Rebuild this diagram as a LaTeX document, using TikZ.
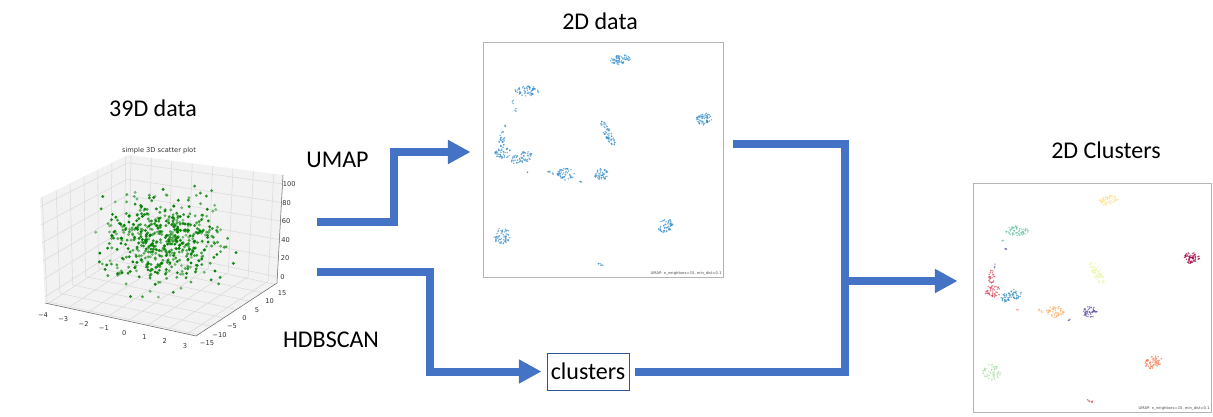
\documentclass[tikz,border=0pt]{standalone}
\usepackage{fontspec}
\setmainfont{Carlito}
\newfontfamily\plotfont{DejaVu Sans}
\usetikzlibrary{arrows.meta, positioning, calc}
\definecolor{cblue}{HTML}{4472C4}
\definecolor{cnavy}{HTML}{2F5597}
\definecolor{cdot}{HTML}{008000}
\definecolor{cumap}{HTML}{3A8FCB}
\definecolor{cpane}{HTML}{F2F2F2}
\definecolor{cgrid}{HTML}{DADADA}
\definecolor{cframe}{HTML}{B4B4B4}
\tikzset{
  every picture/.style={line width=0.6pt},
  title/.style={font=\fontsize{18}{21}\selectfont, anchor=base, inner sep=0pt},
  flow/.style={draw=cblue, line width=6pt},
  flowarrow/.style={flow, -{Triangle[length=17pt, width=17pt]}},
  plotframe/.style={draw=cframe, line width=0.6pt, inner sep=0pt},
  tick/.style={font=\plotfont\fontsize{5}{6}\selectfont, text=black!80, inner sep=0pt},
  note/.style={font=\plotfont\fontsize{2.8}{3}\selectfont, text=black!70, inner sep=0pt},
  gridline/.style={draw=cgrid, line width=0.4pt},
}
% points scattered in a rotated ellipse: x y rx ry angle count colour
\newcommand{\umapblob}[7]{%
  \foreach \k in {1,...,#6}{
    \pgfmathsetmacro\ba{360*rnd}
    \pgfmathsetmacro\br{sqrt(rnd)}
    \pgfmathsetmacro\bx{#1+\br*(#3*cos(\ba)*cos(#5)-#4*sin(\ba)*sin(#5))}
    \pgfmathsetmacro\by{#2+\br*(#3*cos(\ba)*sin(#5)+#4*sin(\ba)*cos(#5))}
    \fill[#7, opacity=.7] (\bx,\by) circle (0.85);
  }}
\newcommand{\umaplayout}{%
  \umapblob{137}{18}{10}{5}{-8}{65}{k1}
  \umapblob{44}{49}{12}{5}{0}{65}{k2}
  \umapblob{30}{60}{1}{2}{0}{3}{k2}
  \umapblob{33}{68}{1}{1.5}{0}{3}{k12}
  \umapblob{221}{77}{8}{6}{0}{65}{k3}
  \umapblob{125}{92}{14}{4}{62}{60}{k4}
  \umapblob{22}{85}{1}{2}{0}{3}{k12}
  \umapblob{19}{97}{3}{8}{0}{25}{k5}
  \umapblob{20}{111}{8}{6}{0}{45}{k5}
  \umapblob{39}{116}{11}{6}{-20}{60}{k6}
  \umapblob{45}{130}{1}{1}{0}{2}{k13}
  \umapblob{83}{132}{9}{6}{0}{55}{k7}
  \umapblob{68}{131}{4}{1.5}{20}{6}{k7}
  \umapblob{97}{140}{1.5}{1}{0}{3}{k12}
  \umapblob{118}{132}{7}{6}{0}{50}{k8}
  \umapblob{182}{184}{9}{6}{-25}{55}{k9}
  \umapblob{19}{194}{9}{8}{0}{60}{k10}
  \umapblob{118}{223}{3}{1}{30}{6}{k11}
}
\begin{document}
\begin{tikzpicture}[x=0.75pt, y=-0.75pt]
  \useasboundingbox (0,0) rectangle (1213,417);

  % 3D scatter plot
  \coordinate (Lt) at (40,198); \coordinate (Bt) at (128,155); \coordinate (Rt) at (283,175);
  \coordinate (Lb) at (45,303); \coordinate (Bb) at (126,250); \coordinate (Rb) at (277,283);
  \coordinate (F) at (196,336);
  \fill[cpane] (Lt) -- (Bt) -- (Bb) -- (Lb) -- cycle;
  \fill[cpane] (Bt) -- (Rt) -- (Rb) -- (Bb) -- cycle;
  \fill[cpane] (Lb) -- (Bb) -- (Rb) -- (F) -- cycle;
  \foreach \v in {-15,-10,...,15}{
    \pgfmathsetmacro\f{(\v+15.8)/31.6}
    \draw[gridline] ($(Lb)!\f!(Bb)$) -- ($(Lt)!\f!(Bt)$);
    \draw[gridline] ($(Lb)!\f!(Bb)$) -- ($(F)!\f!(Rb)$);
  }
  \foreach \v in {-4,...,3}{
    \pgfmathsetmacro\f{(\v+4.15)/7.6}
    \draw[gridline] ($(Bb)!\f!(Rb)$) -- ($(Bt)!\f!(Rt)$);
    \draw[gridline] ($(Lb)!\f!(F)$) -- ($(Bb)!\f!(Rb)$);
  }
  \foreach \v in {0,20,...,100}{
    \pgfmathsetmacro\f{(\v+6.5)/116}
    \draw[gridline] ($(Lb)!\f!(Lt)$) -- ($(Bb)!\f!(Bt)$) -- ($(Rb)!\f!(Rt)$);
  }
  \draw[black!60, line width=0.4pt] (Lb) -- (F) -- (Rb) -- (Rt);
  \pgfmathsetseed{39}
  \foreach \k in {1,...,560}{
    \pgfmathsetmacro\px{163+27*(rand+rand+rand)}
    \pgfmathsetmacro\py{240+22*(rand+rand+rand)}
    \pgfmathsetmacro\op{0.45+0.55*rnd}
    \fill[cdot, opacity=\op] (\px,\py) circle (1.6);
  }
  \foreach \lab [count=\k from 0] in {−4,−3,−2,−1,0,1,2,3}
    \node[tick] at (43+20.3*\k,315+4.4*\k) {\lab};
  \foreach \lab [count=\k from 0] in {−15,−10,−5,0,5,10,15}
    \node[tick] at (207+12.5*\k,343-8.33*\k) {\lab};
  \foreach \lab [count=\k from 0] in {0,20,40,60,80,100}
    \node[tick, anchor=west] at (280+0.5*\k,277-18.6*\k) {\lab};
  \node[tick, anchor=base] (scattertitle) at (159,153) {simple 3D scatter plot};
  \node[title] (t39) at (153,117) {39D data};

  % UMAP embedding
  \node[plotframe, minimum width=180pt, minimum height=176.25pt] (umapplot) at (603,159.5) {};
  \begin{scope}[shift={(483,42)}]
    \colorlet{k1}{cumap}\colorlet{k2}{cumap}\colorlet{k3}{cumap}
    \colorlet{k4}{cumap}\colorlet{k5}{cumap}\colorlet{k6}{cumap}
    \colorlet{k7}{cumap}\colorlet{k8}{cumap}\colorlet{k9}{cumap}
    \colorlet{k10}{cumap}\colorlet{k11}{cumap}\colorlet{k12}{cumap}
    \colorlet{k13}{cumap}
    \pgfmathsetseed{15}
    \umaplayout
  \end{scope}
  \node[note, anchor=south east] (umapnote) at ([shift={(-1pt,1.5pt)}]umapplot.south east) {UMAP: n\_neighbors=15, min\_dist=0.1};
  \node[title] (t2d) at (600,30) {2D data};

  % clustered embedding
  \node[plotframe, minimum width=178.5pt, minimum height=171.75pt] (clusterplot) at (1092,297.5) {};
  \begin{scope}[shift={(973,183)}, xscale=0.99, yscale=0.975]
    \definecolor{k1}{HTML}{FEE08B}\definecolor{k2}{HTML}{66C2A5}
    \definecolor{k3}{HTML}{9E0142}\definecolor{k4}{HTML}{E6F598}
    \definecolor{k5}{HTML}{D53E4F}\definecolor{k6}{HTML}{3288BD}
    \definecolor{k7}{HTML}{FDAE61}\definecolor{k8}{HTML}{5E4FA2}
    \definecolor{k9}{HTML}{F46D43}\definecolor{k10}{HTML}{ABDDA4}
    \definecolor{k11}{HTML}{D53E4F}\definecolor{k12}{HTML}{5E4FA2}
    \definecolor{k13}{HTML}{F46D43}
    \pgfmathsetseed{21}
    \umaplayout
  \end{scope}
  \node[note, anchor=south east] (clusternote) at ([shift={(-1pt,1.5pt)}]clusterplot.south east) {UMAP: n\_neighbors=15, min\_dist=0.1};
  \node[title] (t2dc) at (1106,159) {2D Clusters};

  % labels and flows
  \node[title] (umaplabel) at (337.5,168) {UMAP};
  \node[title] (hdblabel) at (331,347) {HDBSCAN};
  \node[draw=cnavy, line width=0.75pt, font=\fontsize{18}{21}\selectfont,
        minimum width=61.5pt, minimum height=27.75pt, inner sep=0pt] (clusters) at (588,371.5) {clusters};

  \coordinate (umapin) at (317,222);
  \coordinate (umapbend) at (394,152);
  \coordinate (hdbin) at (317,272);
  \coordinate (hdbbend) at (430,371.5);
  \coordinate (dataout) at (733,144);
  \coordinate (merge) at (845,281);
  \draw[flowarrow, shorten >=9pt] (umapin) -| (umapbend) -- (umapbend -| umapplot.west);
  \draw[flowarrow, shorten >=3.75pt] (hdbin) -| (hdbbend) -- (clusters.west);
  \draw[flowarrow, shorten >=11.25pt] (dataout) -| (merge) -- (merge -| clusterplot.west);
  \draw[flow, shorten <=3.75pt] (clusters.east) -| (merge);
\end{tikzpicture}
\end{document}
